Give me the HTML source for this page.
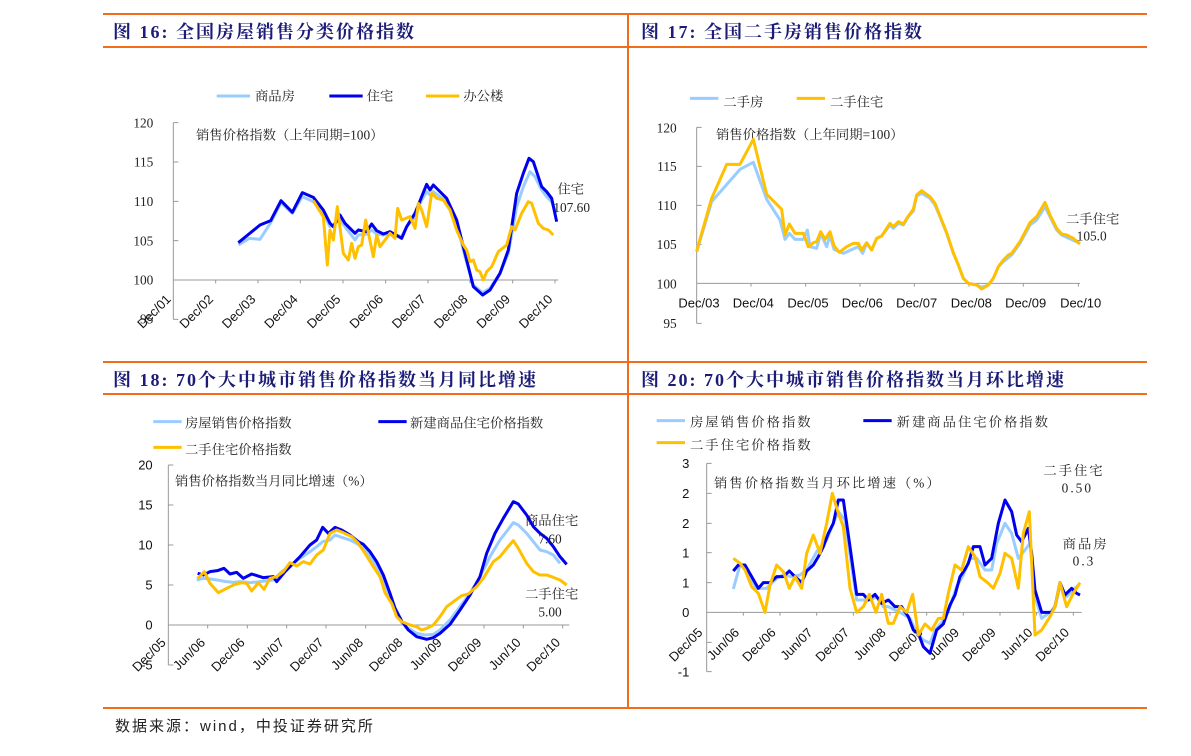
<!DOCTYPE html>
<html><head><meta charset="utf-8"><style>
html,body{margin:0;padding:0;background:#fff;}
svg{display:block;}
.t{font-family:"Liberation Serif","Noto Serif CJK SC",serif;font-weight:bold;fill:#1c1c78;font-size:18px;letter-spacing:2px;}
.c{font-family:"Liberation Serif","Noto Serif CJK SC",serif;fill:#222;font-size:40px;}
.s{font-family:"Liberation Sans","Noto Sans CJK SC",sans-serif;fill:#111;font-size:39px;}
.r{font-family:"Liberation Serif","Noto Serif CJK SC",serif;fill:#222;font-size:40px;}
.sp{letter-spacing:6px;}
.ax{stroke:#999;stroke-width:3;fill:none;}
.lb{stroke:#99ccff;stroke-width:9;fill:none;stroke-linejoin:round;}
.db{stroke:#0000ee;stroke-width:9;fill:none;stroke-linejoin:round;}
.yl{stroke:#ffc000;stroke-width:9;fill:none;stroke-linejoin:round;}
</style></head><body>
<svg width="1191" height="756" viewBox="0 0 1191 756" xmlns="http://www.w3.org/2000/svg">
<g stroke="#f26d1b" stroke-width="2">
<line x1="103" y1="14" x2="1147" y2="14"/>
<line x1="103" y1="47" x2="1147" y2="47"/>
<line x1="103" y1="362" x2="1147" y2="362"/>
<line x1="103" y1="394" x2="1147" y2="394"/>
<line x1="103" y1="708" x2="1147" y2="708"/>
<line x1="628" y1="14" x2="628" y2="708"/>
</g>
<text class="t" x="113" y="38">图 16: 全国房屋销售分类价格指数</text>
<text class="t" x="641" y="38">图 17: 全国二手房销售价格指数</text>
<text class="t" x="113" y="386">图 18: 70个大中城市销售价格指数当月同比增速</text>
<text class="t" x="641" y="386">图 20: 70个大中城市销售价格指数当月环比增速</text>
<text x="115" y="731" style="font-family:'Liberation Sans','Noto Sans CJK SC',sans-serif;font-size:15px;letter-spacing:2px;fill:#222">数据来源：wind，中投证券研究所</text>

<!-- Chart 1 -->
<g transform="translate(100,80) scale(0.33333)">
<line x1="350" y1="48" x2="450" y2="48" class="lb"/><text class="c" x="465" y="62">商品房</text>
<line x1="688" y1="48" x2="788" y2="48" class="db"/><text class="c" x="800" y="62">住宅</text>
<line x1="978" y1="48" x2="1078" y2="48" class="yl"/><text class="c" x="1090" y="62">办公楼</text>
<path class="ax" d="M220,128V718M220,128h15M220,246h15M220,364h15M220,482h15M220,718h15M220,600H1375M220,600v10M347,600v10M474,600v10M601,600v10M729,600v10M857,600v10M984,600v10M1110,600v10M1238,600v10M1365,600v10"/>
<g class="r" text-anchor="end"><text x="160" y="142">120</text><text x="160" y="260">115</text><text x="160" y="378">110</text><text x="160" y="496">105</text><text x="160" y="614">100</text><text x="160" y="730">95</text></g>
<text class="c" x="288" y="178">销售价格指数（上年同期=100）</text>
<g class="s" text-anchor="end">
<text transform="translate(215,660) rotate(-45)">Dec/01</text><text transform="translate(342,660) rotate(-45)">Dec/02</text><text transform="translate(469,660) rotate(-45)">Dec/03</text><text transform="translate(596,660) rotate(-45)">Dec/04</text><text transform="translate(724,660) rotate(-45)">Dec/05</text><text transform="translate(852,660) rotate(-45)">Dec/06</text><text transform="translate(979,660) rotate(-45)">Dec/07</text><text transform="translate(1105,660) rotate(-45)">Dec/08</text><text transform="translate(1233,660) rotate(-45)">Dec/09</text><text transform="translate(1360,660) rotate(-45)">Dec/10</text></g>
<polyline class="lb" points="415,495 448,475 480,478 512,428 543,368 577,400 607,350 640,365 670,400 690,440 720,420 735,440 765,480 775,465 800,462 815,450 830,462 850,465 870,458 905,470 920,440 945,410 965,360 980,335 990,345 1000,335 1040,365 1070,430 1095,530 1120,615 1148,638 1170,625 1200,580 1225,520 1250,380 1270,320 1290,275 1305,290 1325,330 1340,350 1355,365 1368,400"/>
<polyline class="db" points="415,488 480,435 512,422 543,362 577,397 607,338 640,352 670,390 690,430 700,440 720,405 735,430 765,460 775,450 800,455 815,432 830,452 850,462 870,455 905,475 920,440 945,400 965,350 980,313 990,330 1000,315 1040,355 1070,420 1095,520 1120,620 1148,645 1170,630 1200,580 1225,510 1250,340 1270,280 1287,235 1300,245 1325,320 1340,335 1355,355 1370,425"/>
<polyline class="yl" points="640,362 670,410 682,555 690,450 700,480 712,380 730,520 745,540 755,490 765,535 775,500 785,495 797,420 820,530 830,465 840,500 870,460 885,475 893,385 905,420 930,410 945,445 955,370 965,390 980,440 995,340 1010,355 1030,360 1050,390 1070,450 1090,495 1100,510 1110,545 1120,540 1130,570 1140,575 1150,600 1160,575 1175,560 1195,515 1220,495 1235,440 1245,450 1265,400 1285,365 1295,370 1315,430 1330,445 1345,450 1360,465"/>
<text class="c" x="1372" y="340">住宅</text><text class="c" x="1360" y="396">107.60</text>
</g>

<!-- Chart 2 -->
<g transform="translate(630,80) scale(0.33333)">
<line x1="180" y1="55" x2="265" y2="55" class="lb"/><text class="c" x="280" y="80">二手房</text>
<line x1="500" y1="55" x2="585" y2="55" class="yl"/><text class="c" x="600" y="80">二手住宅</text>
<path class="ax" d="M200,142V730M200,142h15M200,259h15M200,376h15M200,493h15M200,730h15M200,610H1350M200,610v10M363,610v10M527,610v10M690,610v10M853,610v10M1017,610v10M1180,610v10M1345,610v10"/>
<g class="r" text-anchor="end"><text x="140" y="157">120</text><text x="140" y="273">115</text><text x="140" y="390">110</text><text x="140" y="507">105</text><text x="140" y="625">100</text><text x="140" y="744">95</text></g>
<text class="c" x="258" y="177">销售价格指数（上年同期=100）</text>
<g class="s" text-anchor="middle"><text x="207" y="683">Dec/03</text><text x="370" y="683">Dec/04</text><text x="534" y="683">Dec/05</text><text x="697" y="683">Dec/06</text><text x="860" y="683">Dec/07</text><text x="1024" y="683">Dec/08</text><text x="1187" y="683">Dec/09</text><text x="1352" y="683">Dec/10</text></g>
<polyline class="lb" points="200,515 245,365 330,268 370,247 410,358 450,420 465,478 478,460 495,478 520,478 532,450 540,500 560,505 572,460 590,500 600,465 612,508 640,520 685,500 698,520 710,490 725,510 740,475 755,468 780,435 790,445 805,430 820,435 835,410 850,393 860,348 875,340 900,355 915,375 930,410 950,460 970,520 985,555 1000,595 1015,610 1040,615 1055,622 1075,615 1090,595 1105,560 1120,545 1145,525 1170,490 1200,435 1220,420 1245,380 1260,410 1280,450 1295,465 1350,490"/>
<polyline class="yl" points="200,515 205,495 245,355 290,253 330,253 370,178 410,343 455,388 465,465 478,432 495,460 520,460 535,500 550,488 560,485 572,455 585,478 600,455 612,497 628,517 650,500 670,490 685,490 695,510 710,488 725,510 740,475 755,468 780,430 790,440 805,425 820,432 835,408 850,388 860,345 875,332 900,350 915,370 930,408 950,458 970,518 985,555 1000,595 1015,610 1040,615 1055,627 1075,615 1090,595 1105,560 1120,540 1135,525 1145,520 1170,485 1200,428 1220,410 1245,367 1260,405 1280,445 1295,462 1310,465 1330,475 1350,492"/>
<text class="c" x="1308" y="430">二手住宅</text><text class="c" x="1340" y="482">105.0</text>
</g>

<!-- Chart 3 -->
<g transform="translate(100,400) scale(0.33333)">
<line x1="160" y1="65" x2="245" y2="65" class="lb"/><text class="c" x="255" y="82">房屋销售价格指数</text>
<line x1="835" y1="65" x2="920" y2="65" class="db"/><text class="c" x="930" y="82">新建商品住宅价格指数</text>
<line x1="160" y1="142" x2="245" y2="142" class="yl"/><text class="c" x="255" y="162">二手住宅价格指数</text>
<path class="ax" d="M205,195V795M205,195h15M205,315h15M205,435h15M205,555h15M205,795h15M205,675H1408M323,675v10M442,675v10M560,675v10M678,675v10M797,675v10M915,675v10M1033,675v10M1152,675v10M1270,675v10M1388,675v10"/>
<g class="s" text-anchor="end"><text x="158" y="209">20</text><text x="158" y="329">15</text><text x="158" y="449">10</text><text x="158" y="569">5</text><text x="158" y="689">0</text></g>
<text class="c" x="225" y="256">销售价格指数当月同比增速（%）</text>
<g class="s" text-anchor="end">
<text transform="translate(200,730) rotate(-45)">Dec/05</text><text transform="translate(318,730) rotate(-45)">Jun/06</text><text transform="translate(437,730) rotate(-45)">Dec/06</text><text transform="translate(555,730) rotate(-45)">Jun/07</text><text transform="translate(673,730) rotate(-45)">Dec/07</text><text transform="translate(792,730) rotate(-45)">Jun/08</text><text transform="translate(910,730) rotate(-45)">Dec/08</text><text transform="translate(1028,730) rotate(-45)">Jun/09</text><text transform="translate(1147,730) rotate(-45)">Dec/09</text><text transform="translate(1265,730) rotate(-45)">Jun/10</text><text transform="translate(1383,730) rotate(-45)">Dec/10</text></g>
<text class="s" x="158" y="809" text-anchor="end">-5</text>
<polyline class="lb" points="290,540 310,535 330,537 352,540 380,545 400,547 420,545 450,548 480,545 520,540 545,515 575,495 600,475 630,455 650,440 668,425 690,420 705,405 725,412 750,420 775,433 800,455 830,500 850,540 870,590 890,635 905,668 925,685 950,700 975,705 1000,703 1020,690 1050,660 1080,620 1110,580 1140,530 1170,470 1200,420 1240,368 1255,375 1280,400 1300,425 1320,450 1340,455 1360,465 1380,490"/>
<polyline class="db" points="293,520 310,525 330,515 352,512 372,505 390,522 410,517 430,535 455,522 490,533 520,530 530,545 555,515 575,495 600,470 630,435 650,420 668,382 685,400 705,382 725,390 750,405 775,425 790,433 810,455 830,485 850,525 870,580 885,625 905,663 925,690 950,710 980,718 1000,713 1020,700 1050,673 1080,630 1110,585 1140,530 1160,460 1185,400 1210,355 1240,305 1255,312 1280,345 1300,380 1320,400 1340,415 1360,440 1380,470 1400,493"/>
<polyline class="yl" points="293,535 313,515 330,550 355,578 380,565 405,553 425,548 440,550 455,573 475,548 492,568 510,535 530,530 550,515 570,488 590,498 610,485 630,492 650,465 670,450 690,400 710,390 730,398 755,410 775,430 795,460 820,500 840,530 855,578 875,610 890,650 905,665 930,675 950,680 965,690 980,685 1000,675 1020,650 1040,620 1060,605 1085,587 1105,582 1130,560 1150,535 1180,485 1200,470 1220,445 1240,422 1255,445 1280,490 1300,515 1320,525 1340,525 1360,532 1380,540 1400,555"/>
<text class="c" x="1275" y="375">商品住宅</text><text class="c" x="1315" y="430">7.60</text>
<text class="c" x="1275" y="595">二手住宅</text><text class="c" x="1315" y="650">5.00</text>
</g>

<!-- Chart 4 -->
<g transform="translate(630,400) scale(0.33333)">
<line x1="80" y1="62" x2="165" y2="62" class="lb"/><text class="c sp" x="180" y="80">房屋销售价格指数</text>
<line x1="700" y1="62" x2="785" y2="62" class="db"/><text class="c sp" x="800" y="80">新建商品住宅价格指数</text>
<line x1="80" y1="128" x2="165" y2="128" class="yl"/><text class="c sp" x="180" y="148">二手住宅价格指数</text>
<path class="ax" d="M230,190V815M230,190h15M230,280h15M230,370h15M230,458h15M230,548h15M230,727h15M230,815h15M230,637H1355M340,637v10M450,637v10M560,637v10M670,637v10M780,637v10M890,637v10M1000,637v10M1110,637v10M1220,637v10M1330,637v10"/>
<g class="s" text-anchor="end"><text x="178" y="204">3</text><text x="178" y="294">2</text><text x="178" y="384">2</text><text x="178" y="472">1</text><text x="178" y="562">1</text><text x="178" y="651">0</text><text x="178" y="829">-1</text></g>
<text class="c sp" x="252" y="262">销售价格指数当月环比增速（%）</text>
<g class="s" text-anchor="end">
<text transform="translate(220,700) rotate(-45)">Dec/05</text><text transform="translate(330,700) rotate(-45)">Jun/06</text><text transform="translate(440,700) rotate(-45)">Dec/06</text><text transform="translate(550,700) rotate(-45)">Jun/07</text><text transform="translate(660,700) rotate(-45)">Dec/07</text><text transform="translate(770,700) rotate(-45)">Jun/08</text><text transform="translate(880,700) rotate(-45)">Dec/08</text><text transform="translate(990,700) rotate(-45)">Jun/09</text><text transform="translate(1100,700) rotate(-45)">Dec/09</text><text transform="translate(1210,700) rotate(-45)">Jun/10</text><text transform="translate(1320,700) rotate(-45)">Dec/10</text></g>
<polyline class="lb" points="310,567 330,495 345,505 365,540 380,565 410,565 440,535 460,525 485,530 510,525 530,510 560,455 590,420 610,370 625,335 645,360 665,500 680,600 700,600 720,600 740,590 760,620 775,620 795,630 815,640 840,655 860,700 880,720 900,730 915,690 940,662 960,620 980,560 1000,525 1020,475 1040,475 1065,510 1085,510 1100,430 1125,370 1145,400 1165,475 1185,450 1200,430 1215,590 1235,655 1260,637 1275,620 1290,555 1310,590 1330,570 1345,555"/>
<polyline class="db" points="310,513 325,495 345,495 365,530 385,565 400,548 420,548 440,530 460,530 478,513 495,530 515,548 530,513 550,495 565,470 580,440 595,400 610,370 625,300 640,300 660,440 680,583 700,583 715,600 735,583 755,610 775,600 795,620 815,620 835,650 850,690 865,700 880,740 900,760 920,690 940,672 960,615 975,585 990,530 1005,508 1015,490 1030,440 1050,440 1065,495 1085,475 1105,370 1125,300 1145,335 1160,405 1175,425 1195,385 1205,460 1215,570 1235,637 1265,637 1275,620 1290,548 1305,585 1325,565 1340,580 1350,585"/>
<polyline class="yl" points="310,475 330,490 345,510 365,560 385,580 405,637 420,555 440,495 460,515 478,565 495,530 515,565 530,460 550,405 570,460 590,370 607,280 625,340 640,380 660,565 680,637 700,620 718,583 738,637 755,583 775,670 790,670 810,620 830,637 848,583 865,705 885,672 905,690 925,655 940,655 955,580 975,495 995,510 1015,440 1035,470 1050,530 1075,550 1090,565 1110,520 1125,460 1145,475 1165,565 1180,400 1198,335 1215,705 1235,690 1260,650 1275,620 1290,548 1310,620 1330,580 1350,548"/>
<text class="c sp" x="1240" y="225">二手住宅</text><text class="c sp" x="1295" y="278">0.50</text>
<text class="c sp" x="1298" y="445">商品房</text><text class="c sp" x="1328" y="497">0.3</text>
</g>
</svg>
</body></html>
